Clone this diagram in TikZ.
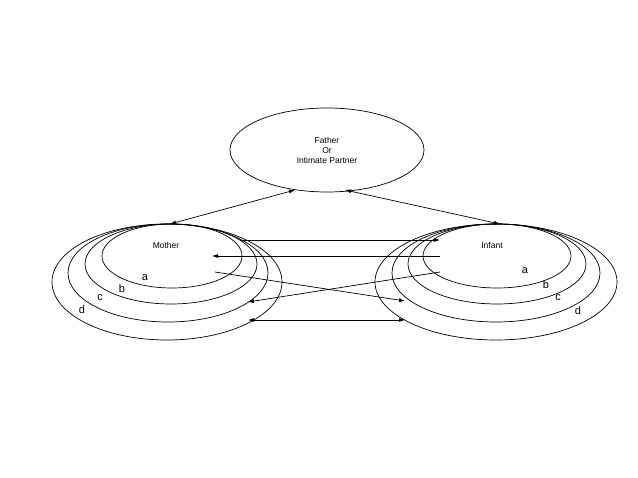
\documentclass[tikz,border=0pt]{standalone}
\usepackage{fontspec}
\setmainfont{Liberation Sans}
\usetikzlibrary{arrows.meta}
\begin{document}
\begin{tikzpicture}[x=1pt,y=-1pt,line width=0.7pt,
  arr/.style={-{Latex[length=6pt,width=4pt]}},
  darr/.style={{Latex[length=6pt,width=4pt]}-{Latex[length=6pt,width=4pt]}},
  lab/.style={font=\fontsize{8.5}{10}\selectfont,align=center},
  let/.style={font=\fontsize{11}{11}\selectfont}]
\useasboundingbox (0,0) rectangle (638,478);
\draw (327,150) ellipse [x radius=97,y radius=42];
\node[lab] (f) at (327,150) {Father\\Or\\Intimate Partner};
\foreach \cx/\cy/\rx/\ry in {172/256/70/32,171/264/86/40,168/273/100/49,167/282/115/58}
  \draw (\cx,\cy) ellipse [x radius=\rx,y radius=\ry];
\foreach \cx/\cy/\rx/\ry in {497/256/74/32,497/264/89/40,496/273/104/49,496/282/121/58}
  \draw (\cx,\cy) ellipse [x radius=\rx,y radius=\ry];
\node[lab] (m) at (166,245) {Mother};
\node[lab] (i) at (492,245) {Infant};
\coordinate (mt) at (170,224); \coordinate (it) at (500,224);
\coordinate (fl) at (295,190); \coordinate (fr) at (345,190);
\draw[darr] (mt) -- (fl);
\draw[darr] (fr) -- (it);
\coordinate (m1) at (240,240); \coordinate (i1) at (440,240);
\coordinate (i2) at (440,256); \coordinate (m2) at (212,256);
\coordinate (m3) at (215,272); \coordinate (i3) at (405,301);
\coordinate (i4) at (440,272); \coordinate (m4) at (248,302);
\coordinate (m5) at (248,320); \coordinate (i5) at (405,320);
\draw[arr] (m1) -- (i1);
\draw[arr] (i2) -- (m2);
\draw[arr] (m3) -- (i3);
\draw[arr] (i4) -- (m4);
\draw[darr] (m5) -- (i5);
\node[let] (la) at (145,278) {a};
\node[let] (lb) at (122,289) {b};
\node[let] (lc) at (100,298) {c};
\node[let] (ld) at (82,310) {d};
\node[let] (ra) at (525,271) {a};
\node[let] (rb) at (546,285) {b};
\node[let] (rc) at (558,298) {c};
\node[let] (rd) at (578,311) {d};
\end{tikzpicture}
\end{document}
